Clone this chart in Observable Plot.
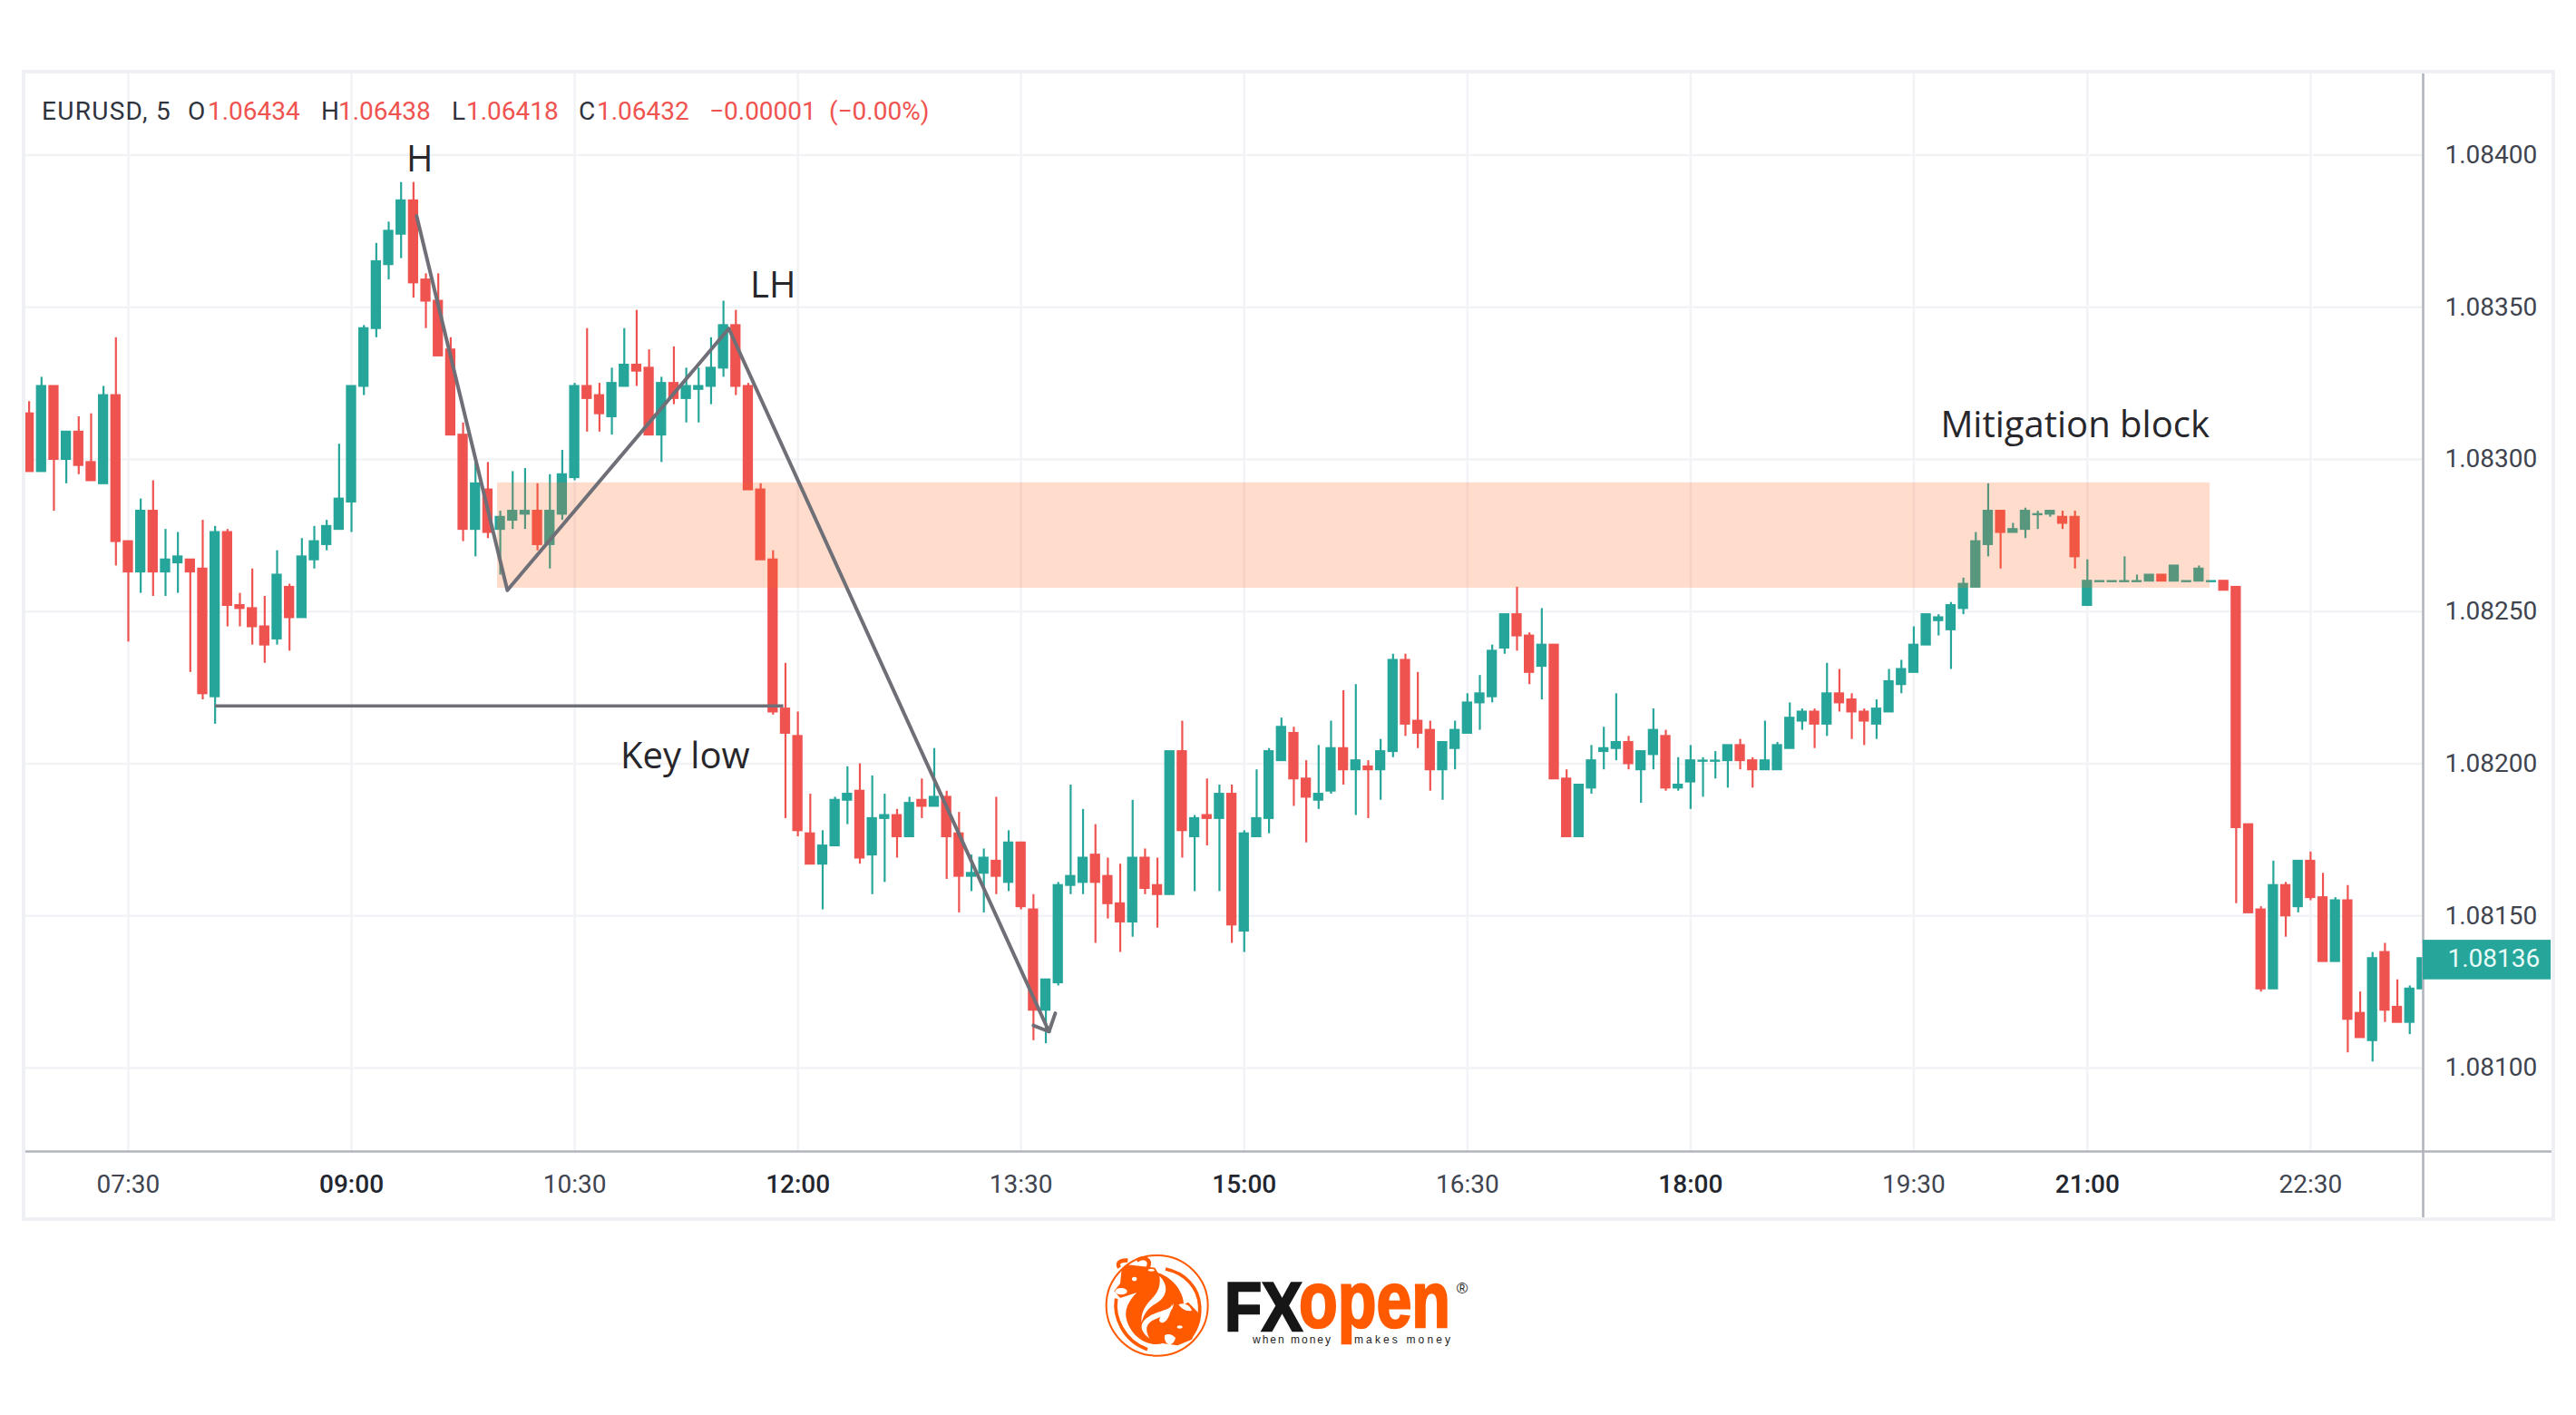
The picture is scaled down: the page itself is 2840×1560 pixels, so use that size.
<!DOCTYPE html>
<html>
<head>
<meta charset="utf-8">
<script src="https://cdn.jsdelivr.net/npm/d3@7"></script>
<script src="https://cdn.jsdelivr.net/npm/@observablehq/plot@0.6"></script>
<style>
html,body{margin:0;padding:0;background:#fff;width:2840px;height:1560px;overflow:hidden}
#wrap{position:relative;width:2840px;height:1560px}
#hdr span{position:absolute;top:105px;font:28px/36px Roboto,sans-serif;white-space:pre}
#logo{position:absolute;left:0;top:1360px}
svg{display:block}
</style>
</head>
<body>
<div id="wrap"><div id="chart"></div><div id="hdr"></div><div id="logo"></div></div>
<script>
const highs=[1.08319,1.08327,1.08324,1.08309,1.08314,1.08315,1.08324,1.08340,1.08273,1.08287,1.08293,1.08277,1.08276,1.08267,1.08280,1.08278,1.08277,1.08256,1.08264,1.08255,1.08270,1.08259,1.08274,1.08278,1.08280,1.08305,1.08324,1.08344,1.08371,1.08378,1.08391,1.08391,1.08361,1.08361,1.08340,1.08312,1.08300,1.08299,1.08283,1.08296,1.08297,1.08292,1.08295,1.08303,1.08325,1.08343,1.08325,1.08330,1.08343,1.08349,1.08336,1.08327,1.08337,1.08330,1.08330,1.08340,1.08352,1.08349,1.08325,1.08292,1.08270,1.08233,1.08217,1.08190,1.08178,1.08189,1.08199,1.08200,1.08196,1.08190,1.08185,1.08189,1.08195,1.08205,1.08191,1.08184,1.08170,1.08172,1.08189,1.08178,1.08174,1.08157,1.08129,1.08161,1.08193,1.08185,1.08180,1.08169,1.08167,1.08188,1.08172,1.08169,1.08204,1.08214,1.08183,1.08195,1.08193,1.08193,1.08178,1.08198,1.08205,1.08215,1.08212,1.08201,1.08206,1.08214,1.08224,1.08226,1.08201,1.08208,1.08236,1.08236,1.08230,1.08214,1.08207,1.08214,1.08223,1.08229,1.08239,1.08249,1.08258,1.08243,1.08251,1.08239,1.08198,1.08193,1.08206,1.08212,1.08223,1.08209,1.08204,1.08218,1.08211,1.08202,1.08206,1.08202,1.08204,1.08206,1.08208,1.08202,1.08214,1.08207,1.08220,1.08218,1.08218,1.08233,1.08231,1.08223,1.08218,1.08221,1.08231,1.08234,1.08245,1.08249,1.08249,1.08253,1.08261,1.08276,1.08292,1.08283,1.08279,1.08284,1.08283,1.08283,1.08283,1.08283,1.08267,1.08260,1.08260,1.08268,1.08262,1.08262,1.08262,1.08265,1.08260,1.08265,1.08260,1.08260,1.08258,1.08180,1.08153,1.08168,1.08161,1.08168,1.08171,1.08164,1.08156,1.08160,1.08125,1.08138,1.08141,1.08129,1.08127,1.08136];
const lows=[1.08296,1.08296,1.08283,1.08292,1.08295,1.08293,1.08292,1.08265,1.08240,1.08256,1.08255,1.08255,1.08256,1.08230,1.08221,1.08213,1.08245,1.08245,1.08239,1.08233,1.08239,1.08237,1.08248,1.08264,1.08270,1.08277,1.08276,1.08321,1.08340,1.08359,1.08366,1.08353,1.08343,1.08334,1.08308,1.08273,1.08268,1.08274,1.08262,1.08277,1.08277,1.08270,1.08264,1.08280,1.08293,1.08309,1.08309,1.08308,1.08324,1.08324,1.08308,1.08299,1.08318,1.08312,1.08312,1.08318,1.08327,1.08321,1.08290,1.08267,1.08216,1.08182,1.08176,1.08167,1.08152,1.08173,1.08180,1.08167,1.08157,1.08161,1.08169,1.08176,1.08182,1.08186,1.08162,1.08151,1.08158,1.08151,1.08157,1.08158,1.08152,1.08109,1.08108,1.08127,1.08157,1.08157,1.08141,1.08149,1.08138,1.08143,1.08157,1.08146,1.08157,1.08169,1.08158,1.08173,1.08158,1.08141,1.08138,1.08176,1.08177,1.08201,1.08186,1.08174,1.08185,1.08190,1.08193,1.08183,1.08182,1.08188,1.08202,1.08209,1.08205,1.08191,1.08188,1.08198,1.08210,1.08211,1.08220,1.08236,1.08237,1.08226,1.08221,1.08195,1.08176,1.08176,1.08190,1.08198,1.08201,1.08198,1.08187,1.08198,1.08191,1.08191,1.08185,1.08189,1.08195,1.08192,1.08198,1.08192,1.08198,1.08198,1.08205,1.08211,1.08205,1.08209,1.08217,1.08208,1.08206,1.08208,1.08217,1.08223,1.08230,1.08239,1.08242,1.08231,1.08249,1.08258,1.08268,1.08264,1.08276,1.08274,1.08277,1.08281,1.08277,1.08264,1.08252,1.08260,1.08260,1.08260,1.08260,1.08260,1.08260,1.08260,1.08260,1.08260,1.08260,1.08257,1.08154,1.08151,1.08125,1.08126,1.08143,1.08151,1.08155,1.08135,1.08135,1.08105,1.08110,1.08102,1.08115,1.08115,1.08111,1.08126];
const bodyTops=[1.08315,1.08324,1.08324,1.08309,1.08309,1.08299,1.08321,1.08321,1.08273,1.08283,1.08283,1.08267,1.08268,1.08267,1.08264,1.08276,1.08276,1.08252,1.08251,1.08245,1.08262,1.08258,1.08268,1.08273,1.08278,1.08287,1.08324,1.08343,1.08365,1.08375,1.08385,1.08385,1.08359,1.08352,1.08336,1.08308,1.08292,1.08290,1.08281,1.08283,1.08283,1.08283,1.08283,1.08295,1.08324,1.08324,1.08321,1.08325,1.08331,1.08331,1.08330,1.08325,1.08325,1.08324,1.08324,1.08330,1.08344,1.08344,1.08324,1.08290,1.08267,1.08218,1.08209,1.08177,1.08173,1.08188,1.08190,1.08191,1.08182,1.08183,1.08183,1.08187,1.08188,1.08189,1.08189,1.08177,1.08164,1.08169,1.08168,1.08174,1.08174,1.08152,1.08129,1.08160,1.08163,1.08169,1.08170,1.08163,1.08154,1.08169,1.08169,1.08160,1.08204,1.08204,1.08182,1.08183,1.08190,1.08190,1.08177,1.08182,1.08204,1.08212,1.08210,1.08195,1.08190,1.08205,1.08205,1.08201,1.08199,1.08204,1.08234,1.08234,1.08214,1.08211,1.08207,1.08211,1.08220,1.08223,1.08237,1.08249,1.08249,1.08242,1.08239,1.08239,1.08195,1.08193,1.08201,1.08205,1.08207,1.08207,1.08204,1.08211,1.08209,1.08193,1.08201,1.08201,1.08201,1.08206,1.08206,1.08201,1.08201,1.08206,1.08215,1.08217,1.08217,1.08223,1.08223,1.08221,1.08217,1.08218,1.08227,1.08231,1.08239,1.08249,1.08248,1.08252,1.08259,1.08273,1.08283,1.08283,1.08277,1.08283,1.08282,1.08283,1.08281,1.08281,1.08260,1.08260,1.08260,1.08260,1.08260,1.08262,1.08262,1.08265,1.08260,1.08264,1.08260,1.08260,1.08258,1.08180,1.08152,1.08160,1.08160,1.08168,1.08168,1.08156,1.08155,1.08155,1.08118,1.08136,1.08138,1.08120,1.08126,1.08136];
const bodyBottoms=[1.08296,1.08296,1.08300,1.08300,1.08298,1.08293,1.08292,1.08273,1.08263,1.08263,1.08263,1.08263,1.08266,1.08263,1.08223,1.08222,1.08252,1.08251,1.08245,1.08239,1.08241,1.08248,1.08248,1.08267,1.08272,1.08277,1.08286,1.08324,1.08343,1.08364,1.08374,1.08358,1.08352,1.08334,1.08308,1.08277,1.08277,1.08276,1.08277,1.08280,1.08282,1.08272,1.08272,1.08282,1.08294,1.08320,1.08315,1.08314,1.08324,1.08329,1.08308,1.08308,1.08320,1.08320,1.08323,1.08324,1.08330,1.08324,1.08290,1.08267,1.08217,1.08210,1.08178,1.08167,1.08167,1.08173,1.08188,1.08169,1.08170,1.08182,1.08176,1.08176,1.08186,1.08186,1.08176,1.08163,1.08163,1.08164,1.08163,1.08161,1.08153,1.08119,1.08119,1.08128,1.08160,1.08161,1.08161,1.08154,1.08148,1.08148,1.08159,1.08157,1.08157,1.08178,1.08176,1.08182,1.08182,1.08147,1.08145,1.08176,1.08182,1.08201,1.08195,1.08189,1.08188,1.08191,1.08198,1.08198,1.08198,1.08198,1.08204,1.08213,1.08210,1.08198,1.08198,1.08205,1.08210,1.08220,1.08222,1.08238,1.08242,1.08230,1.08232,1.08195,1.08176,1.08176,1.08192,1.08204,1.08205,1.08200,1.08198,1.08203,1.08192,1.08192,1.08194,1.08201,1.08201,1.08201,1.08201,1.08198,1.08198,1.08198,1.08205,1.08214,1.08213,1.08213,1.08220,1.08217,1.08214,1.08213,1.08217,1.08226,1.08230,1.08239,1.08247,1.08244,1.08251,1.08258,1.08272,1.08276,1.08276,1.08277,1.08282,1.08282,1.08279,1.08268,1.08252,1.08260,1.08260,1.08260,1.08260,1.08260,1.08260,1.08260,1.08260,1.08260,1.08260,1.08257,1.08179,1.08151,1.08126,1.08126,1.08150,1.08153,1.08156,1.08135,1.08135,1.08116,1.08110,1.08109,1.08119,1.08115,1.08115,1.08126];
const fallingCandles=[1,3,5,6,8,9,11,14,15,17,18,19,20,22,32,33,34,35,36,38,42,46,47,50,51,53,58,59,60,61,62,63,64,68,71,73,75,76,79,81,82,87,88,89,91,92,94,96,98,103,104,107,109,112,113,114,121,122,124,125,130,133,139,140,145,147,148,149,160,165,166,173,178,179,180,181,183,185,186,188,189,191,192];
const tickIndexes=[8,26,44,62,80,98,116,134,152,166,184];
const tickLabels=["07:30","09:00","10:30","12:00","13:30","15:00","16:30","18:00","19:30","21:00","22:30"];
const boldLabels=["09:00","12:00","15:00","18:00","21:00"];
const priceTicks=[1.081,1.0815,1.082,1.0825,1.083,1.0835,1.084];
const lastPrice=1.08136;
const zoneIndexes=[37.78,175.9];
const zonePrices=[1.082577,1.082923];
const swingIndexes=[31.25,38.57,56.43,82.25];
const swingPrices=[1.0838,1.08257,1.08343,1.08112];
const arrowIndexes=[81.0,82.25,82.76];
const arrowPrices=[1.08114,1.08112,1.08118];
const keyLowIndexes=[15.03,60.86];
const keyLowPrice=1.08219;
const notes=["H","LH","Key low","Mitigation block"];
const noteIndexes=[31.5,60.0,52.9,165.0];
const notePrices=[1.083985,1.08357,1.082022,1.083112];
const headerTexts=["EURUSD, 5","O","1.06434","H","1.06438","L","1.06418","C","1.06432","−0.00001","(−0.00%)"];
const headerLeft=[46,207,229,354,373,498,514,638,658,782,914];
const headerRed=[0,0,1,0,1,0,1,0,1,1,1];

const UP="#26a69a",DOWN="#ef5350",GRID="#f2f3f6",AXIS="#b2b5be",PANEL="#eff0f4",LINE="#6e6f77",TXT="#40444f";
const xDomain=[-0.41,193.08],yDomain=[1.0807258,1.0842727];
const xRight=xDomain[1],xLeft=xDomain[0],xPanel=203.46,yBottom=yDomain[0],yTop=yDomain[1],yPanel=1.0805;
const isRed=new Set(fallingCandles);
const candles=highs.map((h,i)=>({i,high:h,low:lows[i],top:bodyTops[i],bottom:bodyBottoms[i],color:isRed.has(i+1)?DOWN:UP}));
const flat=candles.filter(c=>c.top===c.bottom);
const regular=tickIndexes.filter((_,k)=>!boldLabels.includes(tickLabels[k]));
const bold=tickIndexes.filter((_,k)=>boldLabels.includes(tickLabels[k]));
const labelOf=i=>tickLabels[tickIndexes.indexOf(i)];
const swing=swingIndexes.map((x,k)=>({x,y:swingPrices[k]}));
const arrow=arrowIndexes.map((x,k)=>({x,y:arrowPrices[k]}));
const noteRows=notes.map((t,k)=>({t,x:noteIndexes[k],y:notePrices[k]}));

const chart=Plot.plot({
  width:2840,height:1360,marginLeft:26,marginRight:169,marginTop:79,marginBottom:91,
  style:{background:"#fff",fontFamily:"Roboto"},
  x:{domain:xDomain,axis:null},y:{domain:yDomain,axis:null},
  marks:[
    Plot.gridX(tickIndexes,{stroke:GRID,strokeOpacity:1,strokeWidth:2.5}),
    Plot.gridY(priceTicks,{stroke:GRID,strokeOpacity:1,strokeWidth:2.5}),
    Plot.ruleX(candles,{x:"i",y1:"low",y2:"high",stroke:"color",strokeWidth:2.2,clip:true}),
    Plot.rect(candles,{x1:d=>d.i-0.34,x2:d=>d.i+0.34,y1:"bottom",y2:"top",fill:"color",stroke:"color",strokeWidth:2,clip:true}),
    Plot.ruleY(flat,{x1:d=>d.i-0.41,x2:d=>d.i+0.41,y:"top",stroke:"color",strokeWidth:2.4,clip:true}),
    Plot.rect([0],{x1:zoneIndexes[0],x2:zoneIndexes[1],y1:zonePrices[0],y2:zonePrices[1],fill:"#fe6721",fillOpacity:0.23}),
    Plot.ruleY([keyLowPrice],{x1:keyLowIndexes[0],x2:keyLowIndexes[1],stroke:LINE,strokeWidth:3.6}),
    Plot.line(swing,{x:"x",y:"y",stroke:LINE,strokeWidth:4,curve:"linear"}),
    Plot.line(arrow,{x:"x",y:"y",stroke:LINE,strokeWidth:4,curve:"linear"}),
    Plot.text(noteRows,{x:"x",y:"y",text:"t",fontSize:40,fontFamily:"Open Sans",fill:"#26262b"}),
    Plot.ruleX([xRight],{y1:yPanel,y2:yTop,stroke:AXIS,strokeWidth:2.6}),
    Plot.ruleY([yBottom],{x1:xLeft,x2:xPanel,stroke:AXIS,strokeWidth:2.6}),
    Plot.axisX(regular,{tickSize:0,tickPadding:26,fontSize:28,color:TXT,tickFormat:labelOf,label:null}),
    Plot.axisX(bold,{tickSize:0,tickPadding:26,fontSize:28,fontWeight:500,color:"#23262f",tickFormat:labelOf,label:null}),
    Plot.axisY(priceTicks,{anchor:"right",tickSize:0,tickPadding:24,fontSize:28,color:TXT,tickFormat:d=>d.toFixed(5),label:null}),
    Plot.rect([0],{x1:xRight,x2:203.4,y1:1.08129,y2:1.08142,fill:UP}),
    Plot.text([lastPrice],{x:xRight,y:d=>d,text:d=>d.toFixed(5),dx:27,textAnchor:"start",fontSize:28,fill:"#e8fbf8"})
  ]
});
document.getElementById("chart").appendChild(chart);

const wrap=document.getElementById("wrap");
const panel=document.createElement("div");
panel.style.cssText=`position:absolute;left:24px;top:77px;width:2785px;height:1261px;border:4px solid ${PANEL};pointer-events:none`;
wrap.appendChild(panel);

const hdr=document.getElementById("hdr");
headerTexts.forEach((t,k)=>{
  const s=document.createElement("span");
  s.textContent=t;s.style.left=headerLeft[k]+"px";
  s.style.color=headerRed[k]?"#ef5350":"#2f333d";
  if(k===0)s.style.letterSpacing="1.3px";
  hdr.appendChild(s);
});

document.getElementById("logo").innerHTML=`
<svg width="2840" height="200" viewBox="0 1360 2840 200" xmlns="http://www.w3.org/2000/svg">
 <g transform="translate(1210,1375) scale(0.3333)">
  <g fill="none" stroke="#ff5a00">
   <ellipse cx="197" cy="193" rx="168" ry="166" stroke-width="6"/>
   <path d="M225 72C290 85 335 135 338 195C340 240 325 280 300 305" stroke-width="11"/>
   <path d="M62 170C52 230 85 310 165 338" stroke-width="11"/>
   <path d="M72 68C60 48 82 42 100 44M130 44C155 28 178 40 168 65C164 78 152 82 142 74" stroke-width="13"/>
  </g>
  <path fill="#ff5a00" d="M80 72L100 58L190 68L200 85C250 100 285 150 285 190L300 182L332 215L337 240L312 305L265 325L215 318C170 332 110 300 95 235C88 200 110 170 130 150L75 168L55 145L75 120Z"/>
  <g fill="#fff">
   <path d="M205 95C240 130 228 168 190 188C170 200 152 220 146 250C142 215 160 190 180 170C198 152 210 130 205 95Z"/>
   <path d="M252 182C248 208 205 208 172 228C145 245 130 270 172 302C155 270 160 250 195 236C225 224 252 215 252 182Z"/>
   <path d="M246 186C242 212 208 215 204 242C212 260 240 248 246 186Z"/>
   <ellipse cx="122" cy="105" rx="8" ry="7"/>
   <ellipse cx="78" cy="146" rx="20" ry="11"/>
   <ellipse cx="178" cy="76" rx="11" ry="4"/>
   <path d="M222 292C235 282 252 292 258 300C255 312 248 322 236 322C226 318 220 305 222 292Z"/>
   <ellipse cx="272" cy="264" rx="9" ry="5"/>
   <path d="M268 190C285 182 305 190 312 210C300 212 285 212 268 190Z"/>
  </g>
 </g>
 <text x="1350" y="1467" font-family="Liberation Sans" font-weight="700" font-size="76" fill="#161616" stroke="#161616" stroke-width="2.5" textLength="86" lengthAdjust="spacingAndGlyphs">FX</text>
 <text x="1432" y="1463" font-family="Liberation Sans" font-weight="700" font-size="88" fill="#ff5a00" stroke="#ff5a00" stroke-width="2.5" textLength="167" lengthAdjust="spacingAndGlyphs">open</text>
 <text x="1381" y="1481" font-family="Liberation Sans" font-size="12" fill="#222" textLength="86">when money</text>
 <text x="1493" y="1481" font-family="Liberation Sans" font-size="12" fill="#222" textLength="106">makes money</text>
 <text x="1612" y="1426" text-anchor="middle" font-family="Liberation Sans" font-size="17" fill="#222">®</text>
</svg>`;
</script>
</body>
</html>
